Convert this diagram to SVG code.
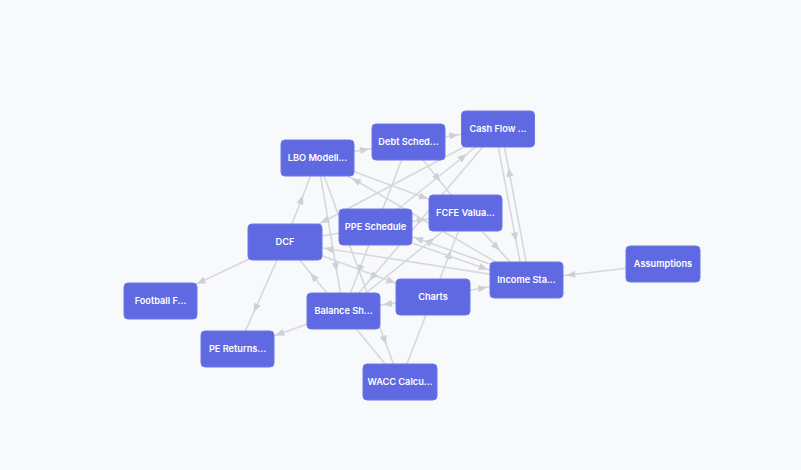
<svg xmlns="http://www.w3.org/2000/svg" width="801" height="470" viewBox="0 0 801 470">
<defs>
<marker id="ah" markerUnits="userSpaceOnUse" markerWidth="12" markerHeight="12" refX="0" refY="0" orient="auto" overflow="visible">
<path d="M0,0 L-9,-3.6 L-9,3.6 Z" fill="#cdd0d6"/>
</marker>
</defs>
<style>
.e{fill:none;stroke:#d6d8dd;stroke-width:1.6;marker-mid:url(#ah)}
.n rect{fill:#5f69e2;stroke:#6e77e6;stroke-width:1}
.n text{fill:#ffffff;font-family:Inter,"Noto Sans","Liberation Sans",sans-serif;font-size:9.2px;font-weight:600;text-anchor:middle}
</style>
<rect x="0" y="0" width="801" height="470" fill="#f8f9fa"/>
<g id="connectors">
<path class="e" d="M408.5,142 L458.4,134.7 L498,129"/>
<path class="e" d="M317.5,158 L369.1,148.9 L408.5,142"/>
<path class="e" d="M663,264 L566.2,275.3 L526.5,280"/>
<path class="e" d="M495.05,129.56 L516.1,241.3 L523.55,280.56"/>
<path class="e" d="M529.45,279.44 L508.4,167.7 L500.95,128.44"/>
<path class="e" d="M285,242 L196.6,283.9 L160.5,301"/>
<path class="e" d="M285,242 L253.7,312.4 L237.5,349"/>
<path class="e" d="M285,242 L303.1,195.3 L317.5,158"/>
<path class="e" d="M317.5,158 L336.8,271.6 L343.5,311"/>
<path class="e" d="M317.5,158 L386.2,344.5 L400,382"/>
<path class="e" d="M400,382 L310.4,272.9 L285,242"/>
<path class="e" d="M343.5,311 L275.2,335.5 L237.5,349"/>
<path class="e" d="M433,297 L383,304.8 L343.5,311"/>
<path class="e" d="M433,297 L487.1,287.2 L526.5,280"/>
<path class="e" d="M400,382 L451,250.3 L465.5,213"/>
<path class="e" d="M317.5,158 L428,199.1 L465.5,213"/>
<path class="e" d="M526.5,280 L352,178.2 L317.5,158"/>
<path class="e" d="M285,242 L426,219.3 L465.5,213"/>
<path class="e" d="M526.5,280 L324.5,248.2 L285,242"/>
<path class="e" d="M285,242 L395.5,283.1 L433,297"/>
<path class="e" d="M498,129 L320.3,223.3 L285,242"/>
<path class="e" d="M375.5,227 L466.8,154 L498,129"/>
<path class="e" d="M498,129 L369.4,280.5 L343.5,311"/>
<path class="e" d="M465.5,213 L499.6,250.4 L526.5,280"/>
<path class="e" d="M408.5,142 L357.9,273.7 L343.5,311"/>
<path class="e" d="M343.5,311 L434.3,238 L465.5,213"/>
<path class="e" d="M374.5,229.8 L487.8,269.6 L525.5,282.8"/>
<path class="e" d="M527.5,277.2 L414.2,237.4 L376.5,224.2"/>
<path class="e" d="M408.5,142 L440.5,181.8 L465.5,213"/>
</g>
<g id="lbo" class="n"><rect x="281" y="140" width="73" height="36" rx="4"/><text x="317.5" y="161.3">LBO Modell...</text></g>
<g id="debt" class="n"><rect x="372" y="124" width="73" height="36" rx="4"/><text x="408.5" y="145.3">Debt Sched...</text></g>
<g id="cashflow" class="n"><rect x="461.5" y="111" width="73" height="36" rx="4"/><text x="498" y="132.3">Cash Flow ...</text></g>
<g id="ppe" class="n"><rect x="339" y="209" width="73" height="36" rx="4"/><text x="375.5" y="230.3">PPE Schedule</text></g>
<g id="fcfe" class="n"><rect x="429" y="195" width="73" height="36" rx="4"/><text x="465.5" y="216.3">FCFE Valua...</text></g>
<g id="dcf" class="n"><rect x="248" y="224" width="74" height="36" rx="4"/><text x="285" y="245.3">DCF</text></g>
<g id="income" class="n"><rect x="490" y="262" width="73" height="36" rx="4"/><text x="526.5" y="283.3">Income Sta...</text></g>
<g id="charts" class="n"><rect x="396" y="279" width="74" height="36" rx="4"/><text x="433" y="300.3">Charts</text></g>
<g id="balance" class="n"><rect x="307" y="293" width="73" height="36" rx="4"/><text x="343.5" y="314.3">Balance Sh...</text></g>
<g id="wacc" class="n"><rect x="363" y="364" width="74" height="36" rx="4"/><text x="400" y="385.3">WACC Calcu...</text></g>
<g id="football" class="n"><rect x="124" y="283" width="73" height="36" rx="4"/><text x="160.5" y="304.3">Football F...</text></g>
<g id="pe" class="n"><rect x="201" y="331" width="73" height="36" rx="4"/><text x="237.5" y="352.3">PE Returns...</text></g>
<g id="assumptions" class="n"><rect x="626" y="246" width="74" height="36" rx="4"/><text x="663" y="267.3">Assumptions</text></g>
</svg>
